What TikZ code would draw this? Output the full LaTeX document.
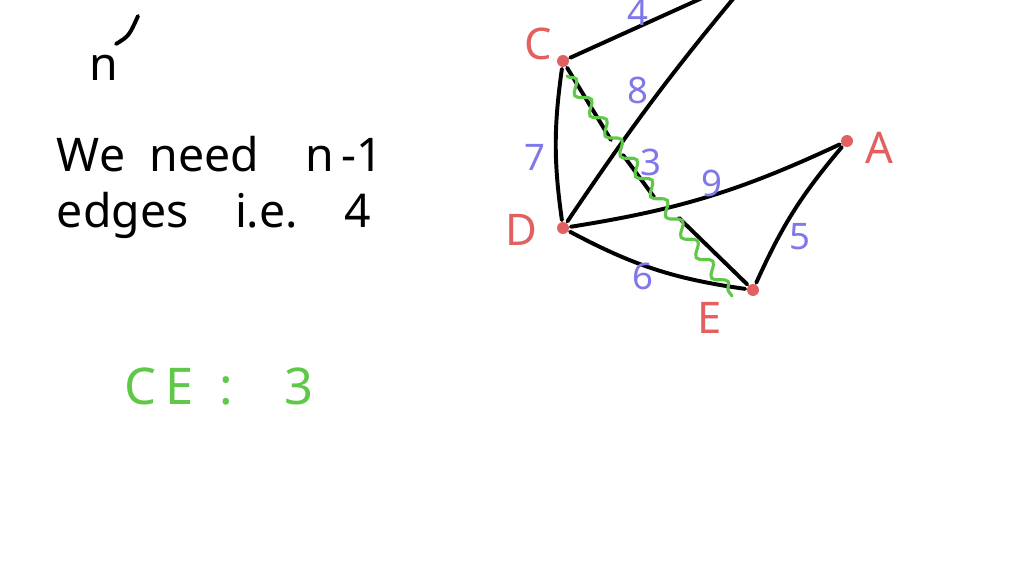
\documentclass[tikz,border=0pt]{standalone}
\usepackage{fontspec}
\setmainfont{Noto Sans}
\usetikzlibrary{decorations.pathmorphing}

\definecolor{vred}{RGB}{226,96,96}
\definecolor{wblue}{RGB}{128,120,232}
\definecolor{hgreen}{RGB}{96,200,72}

\begin{document}
\begin{tikzpicture}[x=0.025cm,y=-0.025cm,line width=2.8pt,line cap=round,
  vert/.style={circle,fill=vred,inner sep=0pt,minimum size=8.5pt},
  lbl/.style={text=vred,font=\fontsize{31}{33}\selectfont},
  wt/.style={text=wblue,font=\fontsize{26}{28}\selectfont},
  hand/.style={font=\fontsize{33}{37}\selectfont,anchor=base west,inner sep=0pt}]
\clip (0,0) rectangle (1024,576);
\fill[white] (0,0) rectangle (1024,576);
% left side notes
\node[hand] (n) at (88,81) {n};
\draw (116,44) .. controls (129,36) .. (138,16);
\node[hand] (need) at (55,172) {We\ \ need\quad n\,-1};
\node[hand] (edges) at (55,228) {edges\quad i.e.\quad 4};
\node[hand,text=hgreen,font=\fontsize{36}{40}\selectfont] (ce) at (123,404) {C\,E\ \ :\quad 3};
% vertices
\node[vert] (C) at (563,61) {};
\node[vert] (D) at (563,228) {};
\node[vert] (E) at (753,290) {};
\node[vert] (A) at (847,141) {};
\coordinate (B) at (753,-25);
\node[lbl] (labC) at (538,44) {C};
\node[lbl] (labD) at (521,230) {D};
\node[lbl] (labE) at (710,318) {E};
\node[lbl] (labA) at (879,148) {A};
% edges
\draw (C) to[bend right=8] (D);
\draw (C) -- (B);
\draw (D) to[bend left=3] (B);
\draw (D) to[bend right=8] (A);
\draw (D) to[bend right=10] (E);
\draw (E) to[bend left=8] (A);
\coordinate (ce1) at (611,140);
\coordinate (ce2) at (623,155);
\coordinate (ce3) at (654,197);
\coordinate (ce4) at (679,218);
\draw (C) -- (ce1);
\draw (ce2) -- (ce3);
\draw (ce4) -- (E);
% weights
\node[wt] (w4) at (638,12) {4};
\node[wt] (w8) at (638,90) {8};
\node[wt] (w7) at (535,157) {7};
\node[wt] (w3) at (651,162) {3};
\node[wt] (w9) at (712,183) {9};
\node[wt] (w5) at (800,237) {5};
\node[wt] (w6) at (643,276) {6};
% chosen edge
\coordinate (g1) at (567,76);
\coordinate (g2) at (732,296);
\draw[hgreen,line width=2.2pt,decorate,decoration={snake,segment length=18pt,amplitude=4pt}] (g1) -- (g2);
\end{tikzpicture}
\end{document}
